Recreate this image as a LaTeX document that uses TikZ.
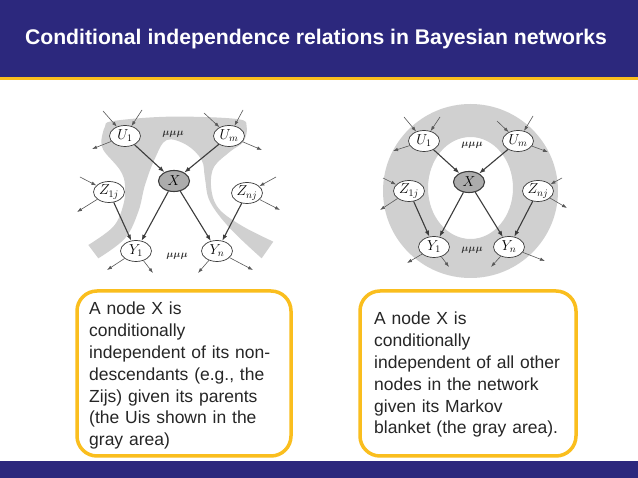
\documentclass[tikz,border=0pt]{standalone}
\usepackage{fontspec}
\setmainfont{Liberation Sans}
\usetikzlibrary{arrows.meta,shapes.geometric}
\definecolor{navy}{RGB}{44,40,125}
\definecolor{gold}{RGB}{250,190,30}
\definecolor{halo}{RGB}{208,208,208}
\definecolor{edgeg}{RGB}{60,60,60}
\tikzset{
 rv/.style={ellipse,draw=edgeg,line width=0.7pt,fill=white,minimum width=31pt,minimum height=21pt,inner sep=0pt,font=\fontsize{14}{14}\selectfont},
 xv/.style={rv,fill=gray!65,line width=1.1pt},
 ln/.style={draw=edgeg,line width=1.1pt,-{Latex[length=6pt,width=4.5pt]}},
 st/.style={draw=edgeg!85,line width=0.6pt,-{Latex[length=5pt,width=3.5pt]}},
 dots/.style={font=\fontsize{10}{10}\selectfont\boldmath,text=black!80,inner sep=0pt},
 callout/.style={draw=gold,line width=3.5pt,rounded corners=20pt,fill=white},
 body/.style={align=left,anchor=north west,inner sep=0pt,text width=200pt,font=\fontsize{17.5}{21.8}\selectfont,text=black!85},
}
\begin{document}
\begin{tikzpicture}[x=1pt,y=-1pt]
\useasboundingbox (0,0) rectangle (638,478);
\fill[white] (0,0) rectangle (638,478);
\fill[navy] (0,0) rectangle (638,77);
\fill[gold] (0,77) rectangle (638,80);
\fill[navy] (0,461) rectangle (638,478);
\node[anchor=center,text=white,font=\fontsize{21.2}{24}\selectfont\bfseries,inner sep=0pt] (title) at (316,39) {Conditional independence relations in Bayesian networks};

% left gray area
\begin{scope}[shift={(70,95)},x=0.3333pt,y=-0.3333pt]
\fill[halo] plot[smooth,tension=0.6] coordinates {(95,130) (105,95) (130,78) (300,65) (500,72) (530,95) (520,140) (480,170) (430,220) (425,290) (450,345) (520,395) (610,440)}
 -- plot[smooth,tension=0.6] coordinates {(575,490) (480,400) (420,320) (405,250) (395,195) (350,150) (290,135) (255,190) (225,270) (205,350) (165,430) (85,490)}
 -- plot[smooth,tension=0.6] coordinates {(55,450) (130,395) (160,330) (165,270) (150,225) (100,165) (95,130)} -- cycle;
\end{scope}
% right ring
\fill[halo,even odd rule] (470.5,191) ellipse [x radius=87.5pt,y radius=87pt] (470.5,188) ellipse [x radius=42.5pt,y radius=51pt];

% left network
\node[rv] (u1) at (125,136) {$U_1$};
\node[rv] (um) at (229,136) {$U_m$};
\node[xv] (x) at (174,181) {$X$};
\node[rv] (z1) at (109,192) {$Z_{1j}$};
\node[rv] (zn) at (247,193) {$Z_{nj}$};
\node[rv] (y1) at (136,251) {$Y_1$};
\node[rv] (yn) at (217,251) {$Y_n$};
\node[dots] (d1) at (173,134) {$\mu\mu\mu$};
\node[dots] (d2) at (177,256) {$\mu\mu\mu$};
\coordinate (a1) at (103,111); \coordinate (a2) at (142,110);
\coordinate (a3) at (204,113); \coordinate (a4) at (243,110);
\coordinate (a5) at (80,177); \coordinate (a6) at (276,177);
\coordinate (b1) at (92,149); \coordinate (b2) at (262,150);
\coordinate (b3) at (77,212); \coordinate (b4) at (280,210);
\coordinate (b5) at (107,270); \coordinate (b6) at (153,273);
\coordinate (b7) at (198,273); \coordinate (b8) at (253,270);
\foreach \s/\t in {a1/u1,a2/u1,a3/um,a4/um,a5/z1,a6/zn,u1/b1,um/b2,z1/b3,zn/b4,y1/b5,y1/b6,yn/b7,yn/b8} \draw[st] (\s) -- (\t);
\foreach \s/\t in {u1/x,um/x,x/y1,x/yn,z1/y1,zn/yn} \draw[ln] (\s) -- (\t);

% right network
\node[rv] (ru1) at (424,141) {$U_1$};
\node[rv] (rum) at (518,141) {$U_m$};
\node[xv] (rx) at (469,182) {$X$};
\node[rv] (rz1) at (409,191) {$Z_{1j}$};
\node[rv] (rzn) at (538,191) {$Z_{nj}$};
\node[rv] (ry1) at (434,247) {$Y_1$};
\node[rv] (ryn) at (509,247) {$Y_n$};
\node[dots] (rd1) at (472,145) {$\mu\mu\mu$};
\node[dots] (rd2) at (472,250) {$\mu\mu\mu$};
\coordinate (c1) at (404,117); \coordinate (c2) at (440,117);
\coordinate (c3) at (497,121); \coordinate (c4) at (533,116);
\coordinate (c5) at (383,178); \coordinate (c6) at (562,178);
\coordinate (e1) at (393,151); \coordinate (e2) at (548,152);
\coordinate (e3) at (380,210); \coordinate (e4) at (567,208);
\coordinate (e5) at (407,263); \coordinate (e6) at (449,267);
\coordinate (e7) at (491,267); \coordinate (e8) at (545,261);
\foreach \s/\t in {c1/ru1,c2/ru1,c3/rum,c4/rum,c5/rz1,c6/rzn,ru1/e1,rum/e2,rz1/e3,rzn/e4,ry1/e5,ry1/e6,ryn/e7,ryn/e8} \draw[st] (\s) -- (\t);
\foreach \s/\t in {ru1/rx,rum/rx,rx/ry1,rx/ryn,rz1/ry1,rzn/ryn} \draw[ln] (\s) -- (\t);

% callouts
\draw[callout] (77,291) rectangle (291,456);
\draw[callout] (360,291) rectangle (576,456);
\node[body] (t1) at (89,302) {A node X is\\conditionally\\independent of its non-\\descendants (e.g., the\\Zijs) given its parents\\(the Uis shown in the\\gray area)};
\node[body] (t2) at (374,312) {A node X is\\conditionally\\independent of all other\\nodes in the network\\given its Markov\\blanket (the gray area).};
\end{tikzpicture}
\end{document}
